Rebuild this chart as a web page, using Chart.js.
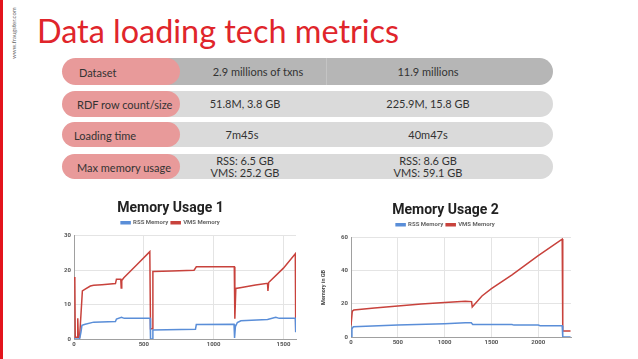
<!DOCTYPE html>
<html>
<head>
<meta charset="utf-8">
<script src="https://cdn.jsdelivr.net/npm/chart.js"></script>
<style>
  body { margin: 0; width: 638px; height: 359px; overflow: hidden; background: #fff; font-family: Lato, "Open Sans", sans-serif; position: relative; }
  .bar { position: absolute; left: 0; top: 0; width: 3px; height: 359px; background: #e3141c; }
  .site { position: absolute; left: 13px; top: 33px; font-size: 6px; color: #666; transform: translate(-50%, -50%) rotate(-90deg); white-space: nowrap; }
  h1 { position: absolute; left: 37px; top: 15px; margin: 0; font-size: 32.4px; line-height: 32px; font-weight: 400; color: #e0252b; white-space: nowrap; }
  .row { position: absolute; left: 0; width: 638px; }
  .gray { position: absolute; left: 150px; width: 403px; top: 0; bottom: 0; background: #dadada; border-radius: 0 14px 14px 0; }
  .row.first .gray { background: #b6b6b6; }
  .divider { position: absolute; left: 326px; top: 0; bottom: 0; width: 1px; background: #c4c4c4; }
  .pill { position: absolute; left: 62px; width: 118px; top: 0; bottom: 0; background: #e89a9a; border-radius: 14px; }
  .lbl { position: absolute; top: 50%; transform: translateY(-50%); font-size: 11px; color: #333; white-space: nowrap; }
  .val { position: absolute; top: 50%; transform: translate(-50%, -50%); font-size: 11px; color: #333; text-align: center; line-height: 12px; white-space: nowrap; }
  canvas { position: absolute; }
</style>
</head>
<body>
<div class="bar"></div>
<div class="site">www.fraugster.com</div>
<h1>Data loading tech metrics</h1>

<div class="row first" style="top:58px;height:27px">
  <div class="gray"></div><div class="divider"></div><div class="pill"></div>
  <div class="lbl" style="left:79px">Dataset</div>
  <div class="val" style="left:258px">2.9 millions of txns</div>
  <div class="val" style="left:428px">11.9 millions</div>
</div>
<div class="row" style="top:91px;height:26px">
  <div class="gray"></div><div class="pill"></div>
  <div class="lbl" style="left:77px">RDF row count/size</div>
  <div class="val" style="left:245px">51.8M, 3.8 GB</div>
  <div class="val" style="left:428px">225.9M, 15.8 GB</div>
</div>
<div class="row" style="top:122px;height:25px">
  <div class="gray"></div><div class="pill"></div>
  <div class="lbl" style="left:74px">Loading time</div>
  <div class="val" style="left:242px">7m45s</div>
  <div class="val" style="left:428px">40m47s</div>
</div>
<div class="row" style="top:154px;height:25px">
  <div class="gray"></div><div class="pill"></div>
  <div class="lbl" style="left:77px">Max memory usage</div>
  <div class="val" style="left:245px">RSS: 6.5 GB<br>VMS: 25.2 GB</div>
  <div class="val" style="left:428px">RSS: 8.6 GB<br>VMS: 59.1 GB</div>
</div>

<canvas id="mem1" width="254" height="163" style="left:45px;top:196px"></canvas>
<canvas id="mem2" width="254" height="161" style="left:320px;top:198px"></canvas>

<script>
// chart 1: time (s) vs memory (GB)
const rss1X = [0, 40, 50, 57, 80, 141, 297, 304, 340, 360, 545, 548, 560, 565, 870, 876, 1146, 1150, 1156, 1170, 1195, 1386, 1445, 1470, 1585, 1588];
const rss1Y = [0, 0, 2, 4, 4.3, 4.9, 5.1, 5.8, 6.3, 6.0, 6.0, 0, 0, 2.6, 2.8, 4.2, 4.3, 0.3, 3.6, 4.8, 5.3, 5.7, 6.3, 6.0, 6.0, 2];
const vms1X = [0, 6, 9, 22, 27, 31, 40, 60, 80, 117, 141, 200, 297, 304, 335, 338, 342, 357, 450, 543, 548, 560, 565, 700, 860, 876, 1000, 1148, 1152, 1159, 1200, 1300, 1386, 1389, 1394, 1500, 1585, 1588];
const vms1Y = [18, 17, 0.5, 0.5, 6, 0.5, 0.5, 14, 14.5, 15.4, 15.6, 15.8, 16.1, 17.4, 17.4, 14.8, 17, 17.8, 21.6, 25.4, 3, 3, 19.6, 19.8, 20, 21, 21, 21, 5.9, 14.7, 15, 15.7, 16.2, 14, 16.4, 20.6, 24.8, 2];
const xTicks1 = [0, 500, 1000, 1500];

// chart 2
const rss2X = [0, 10, 25, 500, 1000, 1221, 1285, 1300, 1720, 1740, 2000, 2020, 2256, 2262, 2345];
const rss2Y = [0, 5, 6.2, 7.2, 8.0, 8.6, 8.6, 7.6, 7.6, 7.2, 7.2, 6.8, 6.8, 0, 0];
const vms2X = [0, 14, 30, 250, 500, 750, 1000, 1221, 1288, 1295, 1399, 1500, 1720, 2000, 2256, 2262, 2345];
const vms2Y = [7, 15.6, 16.3, 17.5, 18.8, 20, 20.8, 21.6, 21.4, 18.2, 24.8, 29.2, 37.6, 49.2, 59.2, 3.6, 3.6];
const xTicks2 = [0, 500, 1000, 1500, 2000];

const seriesNames = ['RSS Memory', 'VMS Memory'];
const seriesColors = ['#5a8ed8', '#c8423c'];

const pts = (xs, ys) => xs.map((x, i) => ({ x: x, y: ys[i] }));

function makeChart(id, title, rss, vms, xTicks, xMax, yMax, yStep, yWidth, xHeight, showYTitle) {
  const tickFont = { size: 6, weight: 'bold', family: 'Roboto' };
  new Chart(document.getElementById(id), {
    type: 'line',
    data: {
      datasets: [rss, vms].map((d, i) => ({
        label: seriesNames[i],
        data: d,
        borderColor: seriesColors[i],
        backgroundColor: seriesColors[i],
        borderWidth: 1.5,
        pointRadius: 0,
        tension: 0,
      })),
    },
    options: {
      responsive: false,
      animation: false,
      devicePixelRatio: 1,
      layout: { padding: { right: 3 } },
      plugins: {
        title: {
          display: true, text: title, color: '#222',
          font: { size: 14, weight: 'bold', family: 'Roboto' },
          padding: { top: 4, bottom: 0 },
        },
        legend: {
          labels: {
            color: '#666', boxWidth: 9, boxHeight: 2, padding: 3,
            font: { size: 6, weight: 'bold', family: 'Roboto' },
          },
        },
        tooltip: { enabled: false },
      },
      scales: {
        x: {
          type: 'linear', min: 0, max: xMax,
          grid: { color: '#e4e4e4', drawTicks: false },
          border: { color: '#a0a0a0' },
          ticks: { padding: 2, color: '#555', font: tickFont, maxRotation: 0, callback: v => String(v) },
          afterBuildTicks: s => { s.ticks = xTicks.map(v => ({ value: v })); },
          afterFit: s => { s.height = xHeight; },
        },
        y: {
          min: 0, max: yMax,
          grid: { color: '#e4e4e4', drawTicks: false },
          border: { color: '#a0a0a0' },
          ticks: { stepSize: yStep, padding: 3, color: '#555', font: tickFont },
          title: { display: showYTitle, text: 'Memory in GB', color: '#444', padding: 0, font: { size: 5.5, weight: 'bold', family: 'Roboto' } },
          afterFit: s => { s.width = yWidth; },
        },
      },
    },
  });
}

makeChart('mem1', 'Memory Usage 1', pts(rss1X, rss1Y), pts(vms1X, vms1Y), xTicks1, 1590, 30, 10, 29, 20, false);
makeChart('mem2', 'Memory Usage 2', pts(rss2X, rss2Y), pts(vms2X, vms2Y), xTicks2, 2350, 60, 20, 31, 22, true);
</script>
</body>
</html>
